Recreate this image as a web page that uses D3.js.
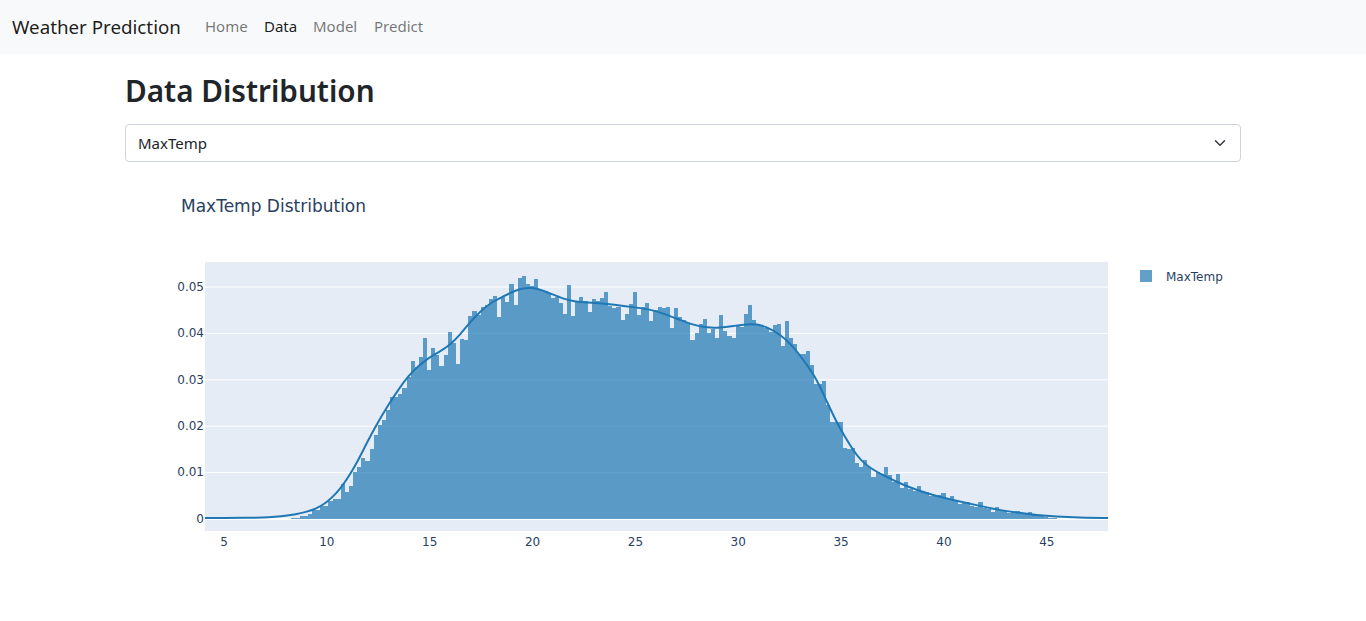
<!DOCTYPE html>
<html><head><meta charset="utf-8">
<script src="https://cdn.jsdelivr.net/npm/d3@7/dist/d3.min.js"></script>
<style>
html,body{margin:0;padding:0;background:#fff;overflow:hidden;width:1366px;height:621px}
body{font-family:"Noto Sans","Open Sans",sans-serif;color:#212529;position:relative}
.nav{position:absolute;left:0;top:0;width:1366px;height:54px;background:#f8f9fa}
.nav span{position:absolute;top:14px;font-size:15px;line-height:24px;color:rgba(0,0,0,.55)}
.nav .brand{left:12px;top:12px;font-size:18.75px;line-height:30px;color:rgba(0,0,0,.9)}
.nav .active{color:rgba(0,0,0,.9)}
h1{position:absolute;left:125px;top:68.5px;margin:0;font-size:29.7px;line-height:44px;font-weight:600;color:#212529}
.sel{position:absolute;left:125px;top:124px;width:1114px;height:36px;border:1px solid #ced4da;border-radius:4px;background:#fff}
.sel span{position:absolute;left:12px;top:5.5px;font-size:15px;line-height:24px;color:#212529}
.sel svg{position:absolute;left:1087px;top:12px}
#chart{position:absolute;left:0;top:0}
</style></head><body>
<div class="nav"><span class="brand">Weather Prediction</span><span style="left:205px">Home</span><span class="active" style="left:264px">Data</span><span style="left:313px">Model</span><span style="left:374px">Predict</span></div>
<h1>Data Distribution</h1>
<div class="sel"><span>MaxTemp</span><svg width="14" height="12" viewBox="0 0 16 16"><path d="M2 5l6 6 6-6" fill="none" stroke="#343a40" stroke-width="2" stroke-linecap="round" stroke-linejoin="round"/></svg></div>
<svg id="chart" width="1366" height="621"></svg>
<script>
const chartTitle = "MaxTemp Distribution";
const seriesName = "MaxTemp";
const xTicks = [5,10,15,20,25,30,35,40,45];
const yTicks = [0,0.01,0.02,0.03,0.04,0.05];
const yTickLabels = ["0","0.01","0.02","0.03","0.04","0.05"];
const binStarts = [8.3,8.5,8.7,8.9,9.1,9.3,9.5,9.7,9.9,10.1,10.3,10.5,10.7,10.9,11.1,11.3,11.5,11.7,11.9,12.1,12.3,12.5,12.7,12.9,13.1,13.3,13.5,13.7,13.9,14.1,14.3,14.5,14.7,14.9,15.1,15.3,15.5,15.7,15.9,16.1,16.3,16.5,16.7,16.9,17.1,17.3,17.5,17.7,17.9,18.1,18.3,18.5,18.7,18.9,19.1,19.3,19.5,19.7,19.9,20.1,20.3,20.5,20.7,20.9,21.1,21.3,21.5,21.7,21.9,22.1,22.3,22.5,22.7,22.9,23.1,23.3,23.5,23.7,23.9,24.1,24.3,24.5,24.7,24.9,25.1,25.3,25.5,25.7,25.9,26.1,26.3,26.5,26.7,26.9,27.1,27.3,27.5,27.7,27.9,28.1,28.3,28.5,28.7,28.9,29.1,29.3,29.5,29.7,29.9,30.1,30.3,30.5,30.7,30.9,31.1,31.3,31.5,31.7,31.9,32.1,32.3,32.5,32.7,32.9,33.1,33.3,33.5,33.7,33.9,34.1,34.3,34.5,34.7,34.9,35.1,35.3,35.5,35.7,35.9,36.1,36.3,36.5,36.7,36.9,37.1,37.3,37.5,37.7,37.9,38.1,38.3,38.5,38.7,38.9,39.1,39.3,39.5,39.7,39.9,40.1,40.3,40.5,40.7,40.9,41.1,41.3,41.5,41.7,41.9,42.1,42.3,42.5,42.7,42.9,43.1,43.3,43.5,43.7,43.9,44.1,44.3,44.5,44.7,44.9,45.1,45.3];
const binDensity = [.0001,.0002,.0005,.0006,.0009,.0019,.0018,.0026,.0026,.0037,.0041,.0043,.0075,.0058,.0071,.0101,.0110,.0131,.0125,.0150,.0181,.0202,.0213,.0234,.0262,.0262,.0269,.0282,.0304,.0340,.0326,.0348,.0389,.0320,.0368,.0352,.0329,.0352,.0402,.0378,.0333,.0387,.0385,.0436,.0447,.0438,.0456,.0460,.0473,.0479,.0434,.0477,.0466,.0505,.0460,.0518,.0522,.0505,.0501,.0516,.0492,.0488,.0486,.0475,.0477,.0464,.0441,.0503,.0436,.0469,.0477,.0469,.0445,.0473,.0469,.0475,.0488,.0458,.0454,.0456,.0428,.0441,.0462,.0488,.0439,.0456,.0464,.0426,.0449,.0456,.0454,.0456,.0411,.0454,.0434,.0428,.0421,.0385,.0400,.0419,.0430,.0400,.0409,.0389,.0439,.0404,.0394,.0389,.0415,.0413,.0441,.0460,.0428,.0419,.0415,.0411,.0402,.0416,.0420,.0372,.0425,.0390,.0377,.0355,.0355,.0362,.0331,.0290,.0290,.0296,.0244,.0207,.0209,.0207,.0153,.0149,.0153,.0119,.0110,.0127,.0112,.0089,.0100,.0095,.0112,.0093,.0078,.0095,.0065,.0078,.0063,.0059,.0070,.0059,.0057,.0048,.0048,.0051,.0055,.0042,.0048,.0040,.0031,.0036,.0036,.0027,.0025,.0036,.0023,.0021,.0014,.0025,.0019,.0016,.0012,.0014,.0016,.0010,.0010,.0014,.0008,.0006,.0006,.0003,.0002,.0001];
const binWidth = 0.2;
const kdeX = [4.1,5,6,7,7.5,8,8.5,9,9.5,10,10.5,11,11.5,12,12.5,13,13.5,14,14.5,15,15.5,16,16.5,17,17.5,18,18.5,19,19.5,20,20.5,21,21.5,22,22.5,23,24,25,25.9,26.5,27.2,27.85,28.5,29.14,29.8,30.44,30.93,31.4,32.06,32.7,33.35,33.84,34.33,34.8,35.2,35.6,36,36.5,37,37.7,38.7,39.67,40.65,41.6,42.6,43.57,44.55,45.5,46.5,48];
const kdeY = [.0001,.0001,.00015,.0002,.0004,.0006,.0009,.0014,.0021,.0034,.0054,.0084,.0121,.0166,.0207,.0244,.0278,.0308,.0330,.0347,.0359,.0374,.0396,.0424,.0447,.0465,.0476,.0488,.0496,.0498,.0492,.0483,.0474,.0468,.0466,.0465,.0461,.0455,.0449,.0440,.0428,.0417,.0411,.0411,.0415,.0419,.0419,.0413,.0397,.0371,.0332,.0300,.0252,.0208,.0177,.0148,.0124,.0107,.0095,.0079,.0061,.0048,.0038,.0029,.0019,.0013,.0007,.0004,.0002,.0001];

const svg = d3.select("#chart");
const L = 205, R = 1108, T = 262, B = 531;
const x = d3.scaleLinear().domain([4.1, 48]).range([L, R]);
const y = d3.scaleLinear().domain([0, 0.05]).range([518.5, 286.5]);

svg.append("rect").attr("x", L).attr("y", T).attr("width", R - L).attr("height", B - T).attr("fill", "#e5ecf6");

const tickFont = "DejaVu Sans";
const gridAxis = d3.axisLeft(y).tickValues(yTicks).tickSize(-(R - L)).tickFormat((d, i) => yTickLabels[i]).tickPadding(1);
const gy = svg.append("g").attr("transform", `translate(${L},0)`).call(gridAxis);
gy.select(".domain").remove();
gy.selectAll("line").attr("stroke", "#fff").attr("stroke-width", d => d === 0 ? 2 : 1);
gy.selectAll("text").attr("fill", "#2a3f5f").style("font-family", tickFont).style("font-size", "12px");

const gx = svg.append("g").attr("transform", `translate(0,${B})`).call(d3.axisBottom(x).tickValues(xTicks).tickSize(0).tickPadding(3));
gx.select(".domain").remove();
gx.selectAll("text").attr("fill", "#2a3f5f").attr("dy", "1em").style("font-family", tickFont).style("font-size", "12px");

svg.append("clipPath").attr("id", "plot").append("rect").attr("x", L).attr("y", T).attr("width", R - L).attr("height", B - T);
const plot = svg.append("g").attr("clip-path", "url(#plot)");

plot.append("g").attr("fill", "#1f77b4").attr("fill-opacity", 0.7).attr("shape-rendering", "crispEdges")
  .selectAll("rect").data(binDensity).join("rect")
  .attr("x", (d, i) => x(binStarts[i]))
  .attr("width", (d, i) => x(binStarts[i] + binWidth) - x(binStarts[i]))
  .attr("y", d => y(d))
  .attr("height", d => y(0) - y(d));

const line = d3.line().x(d => x(d[0])).y(d => y(d[1])).curve(d3.curveBasis);
plot.append("path").datum(kdeX.map((v, i) => [v, kdeY[i]])).attr("d", line)
  .attr("fill", "none").attr("stroke", "#1f77b4").attr("stroke-width", 2);

svg.append("text").attr("x", 181).attr("y", 211.5).text(chartTitle)
  .attr("fill", "#2a3f5f").style("font-family", tickFont).style("font-size", "17px");

svg.append("rect").attr("x", 1140).attr("y", 270).attr("width", 12).attr("height", 12)
  .attr("fill", "#1f77b4").attr("fill-opacity", 0.7);
svg.append("text").attr("x", 1166).attr("y", 280.5).text(seriesName)
  .attr("fill", "#2a3f5f").style("font-family", tickFont).style("font-size", "12px");
</script>
</body></html>
